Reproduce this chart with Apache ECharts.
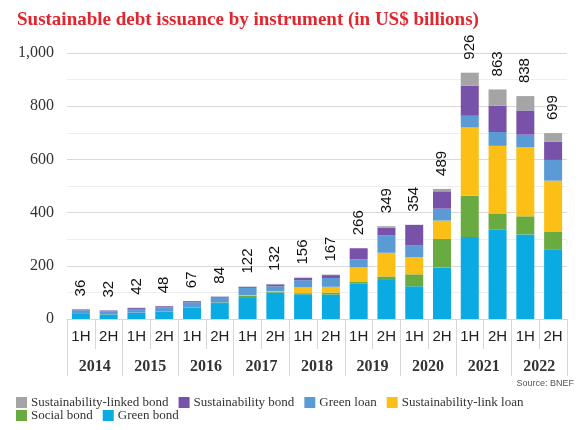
<!DOCTYPE html>
<html>
<head>
<meta charset="utf-8">
<title>Sustainable debt issuance</title>
<script src="https://cdn.jsdelivr.net/npm/echarts@6/dist/echarts.min.js"></script>
<style>
	html, body { margin: 0; padding: 0; background: #ffffff; }
	#chart { width: 582px; height: 430px; }
</style>
</head>
<body>
<div id="chart"></div>
<script>
/**
 * 数据
 * */
var halves = ['1H', '2H', '1H', '2H', '1H', '2H', '1H', '2H', '1H', '2H', '1H', '2H', '1H', '2H', '1H', '2H', '1H', '2H'];
var years = ['2014', '2015', '2016', '2017', '2018', '2019', '2020', '2021', '2022'];
var totals = [36, 32, 42, 48, 67, 84, 122, 132, 156, 167, 266, 349, 354, 489, 926, 863, 838, 699];

var greenBond = [19, 17, 24, 28, 43, 60, 79, 99, 93, 92, 134, 150, 123, 194, 308, 336, 318, 260];
var socialBond = [0, 1, 0, 2, 0, 2, 9, 3, 4, 7, 7, 10, 45, 107, 155, 61, 68, 67];
var sustLinkLoan = [0, 0, 0, 0, 0, 0, 2, 3, 22, 22, 53, 89, 64, 69, 257, 254, 259, 193];
var greenLoan = [14, 11, 14, 14, 20, 18, 27, 18, 27, 33, 30, 65, 44, 45, 44, 52, 48, 78];
var sustBond = [3, 3, 4, 4, 4, 4, 4, 7, 8, 11, 42, 29, 78, 65, 113, 99, 91, 68];
var sustLinkedBond = [0, 0, 0, 0, 0, 0, 1, 2, 2, 2, 0, 6, 0, 9, 49, 61, 54, 33];

/**
 * 样式变量
 * */
var style = {
	serif: '"Liberation Serif", "DejaVu Serif", serif',
	sans: '"Liberation Sans", Arial, sans-serif',
	colors: {
		'Green bond': '#0aaae2',
		'Social bond': '#6aab41',
		'Sustainability-link loan': '#fcbf16',
		'Green loan': '#5b9bd5',
		'Sustainability bond': '#7852a8',
		'Sustainability-linked bond': '#a5a5a5'
	}
}

var myChart = echarts.init(document.getElementById('chart'));

//堆叠柱子
function bar(name, values, isTop) {
	var s = {
		name: name,
		type: 'bar',
		stack: 'total',
		barWidth: 18,
		data: values,
		itemStyle: { color: style.colors[name] }
	};
	if (isTop) {
		//合计标签，竖排
		s.label = {
			show: true,
			position: 'top',
			rotate: 90,
			align: 'left',
			verticalAlign: 'middle',
			distance: 13,
			fontFamily: style.sans,
			fontSize: 15,
			color: '#111',
			formatter: function(p) {
				return totals[p.dataIndex];
			}
		};
	}
	return s;
}

//图例公共样式
var legendBase = {
	left: 11,
	icon: 'rect',
	itemWidth: 11,
	itemHeight: 11,
	itemGap: 10,
	textStyle: { fontFamily: style.serif, fontSize: 13, color: '#333', padding: [0, 0, 0, -1] }
}

var option = {
	animation: false,
	title: {
		text: 'Sustainable debt issuance by instrument (in US$ billions)',
		left: 12,
		top: 6,
		textStyle: {
			fontFamily: style.serif,
			fontWeight: 'bold',
			fontSize: 19,
			color: '#e0262e'
		}
	},
	graphic: [{
		type: 'text',
		right: 8,
		top: 379,
		style: {
			text: 'Source: BNEF',
			fontFamily: style.sans,
			fontSize: 9,
			fill: '#555'
		}
	}],
	legend: [
		Object.assign({}, legendBase, {
			top: 391,
			data: ['Sustainability-linked bond', 'Sustainability bond', 'Green loan', 'Sustainability-link loan']
		}),
		Object.assign({}, legendBase, {
			top: 404,
			data: ['Social bond', 'Green bond']
		})
	],
	grid: {
		left: 67,
		right: 15,
		top: 53,
		bottom: 111
	},
	xAxis: [{
		type: 'category',
		position: 'bottom',
		data: halves,
		axisLine: { lineStyle: { color: '#d6d6d6' } },
		axisTick: { show: true, interval: 0, length: 30, lineStyle: { color: '#d6d6d6' } },
		axisLabel: { interval: 0, margin: 10, fontFamily: style.sans, fontSize: 15, color: '#222' }
	}, {
		type: 'category',
		position: 'bottom',
		data: years,
		axisLine: { show: false },
		axisTick: { show: true, interval: 0, length: 57, lineStyle: { color: '#d6d6d6' } },
		axisLabel: { interval: 0, margin: 40, fontFamily: style.serif, fontWeight: 'bold', fontSize: 16, color: '#333' }
	}],
	yAxis: {
		type: 'value',
		min: 0,
		max: 1000,
		interval: 200,
		axisLine: { show: false },
		axisTick: { show: false },
		axisLabel: {
			margin: 13,
			fontFamily: style.serif,
			fontSize: 16,
			color: '#333',
			formatter: function(v) {
				return v >= 1000 ? '1,000' : v;
			}
		},
		splitLine: { lineStyle: { color: '#d9d9d9', width: 1 } },
		minorTick: { show: false, splitNumber: 2 },
		minorSplitLine: { show: true, lineStyle: { color: '#eeeeee', width: 1 } }
	},
	series: [
		bar('Green bond', greenBond),
		bar('Social bond', socialBond),
		bar('Sustainability-link loan', sustLinkLoan),
		bar('Green loan', greenLoan),
		bar('Sustainability bond', sustBond),
		bar('Sustainability-linked bond', sustLinkedBond, true)
	]
};

myChart.setOption(option);
</script>
</body>
</html>
